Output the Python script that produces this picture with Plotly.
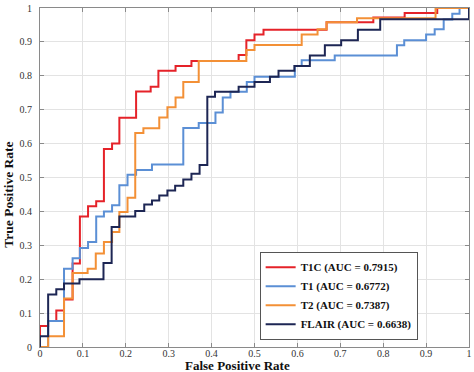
import plotly.graph_objects as go

# ---- data ----
series_names = ["T1C", "T1", "T2", "FLAIR"]
auc_values = [0.7915, 0.6772, 0.7387, 0.6638]

fpr_t1c = [0, 0, 0.019, 0.038, 0.056, 0.076, 0.093, 0.112, 0.131, 0.149, 0.168, 0.185,
           0.224, 0.258, 0.276, 0.316, 0.353, 0.463, 0.481, 0.5, 0.521, 0.668, 0.777,
           0.85, 0.926, 1.0]
tpr_t1c = [0, 0.062, 0.077, 0.108, 0.14, 0.246, 0.385, 0.415, 0.43, 0.584, 0.6, 0.676,
           0.754, 0.768, 0.815, 0.829, 0.844, 0.861, 0.905, 0.922, 0.936, 0.958, 0.972,
           0.985, 1.0, 1.0]

fpr_t1 = [0, 0.019, 0.056, 0.076, 0.093, 0.112, 0.131, 0.149, 0.168, 0.185, 0.204, 0.224,
          0.261, 0.334, 0.37, 0.409, 0.426, 0.444, 0.482, 0.5, 0.594, 0.61, 0.687, 0.832,
          0.849, 0.9, 0.92, 0.941, 0.961, 0.978, 1.0]
tpr_t1 = [0, 0.077, 0.231, 0.262, 0.292, 0.31, 0.385, 0.4, 0.418, 0.477, 0.508, 0.522,
          0.538, 0.646, 0.661, 0.692, 0.736, 0.753, 0.782, 0.797, 0.829, 0.846, 0.86, 0.89,
          0.905, 0.922, 0.937, 0.966, 0.983, 1.0, 1.0]

fpr_t2 = [0, 0.019, 0.056, 0.076, 0.111, 0.13, 0.149, 0.168, 0.185, 0.204, 0.222, 0.241,
          0.278, 0.297, 0.316, 0.334, 0.37, 0.481, 0.5, 0.61, 0.647, 0.668, 0.739, 0.922, 1.0]
tpr_t2 = [0, 0.032, 0.143, 0.218, 0.231, 0.276, 0.31, 0.339, 0.398, 0.44, 0.631, 0.645,
          0.677, 0.707, 0.736, 0.782, 0.844, 0.876, 0.891, 0.922, 0.937, 0.958, 0.97, 1.0, 1.0]

fpr_flair = [0, 0, 0.019, 0.038, 0.056, 0.092, 0.148, 0.167, 0.185, 0.222, 0.243, 0.261,
             0.278, 0.297, 0.315, 0.334, 0.353, 0.372, 0.39, 0.408, 0.463, 0.5, 0.536,
             0.556, 0.593, 0.629, 0.664, 0.702, 0.741, 0.793, 1.0]
tpr_flair = [0, 0.032, 0.155, 0.17, 0.187, 0.2, 0.248, 0.354, 0.385, 0.401, 0.42, 0.432,
             0.447, 0.462, 0.476, 0.494, 0.511, 0.537, 0.738, 0.753, 0.768, 0.782, 0.797,
             0.815, 0.829, 0.86, 0.89, 0.905, 0.936, 0.967, 1.0]

tick_vals = [0, 0.1, 0.2, 0.3, 0.4, 0.5, 0.6, 0.7, 0.8, 0.9, 1]
tick_text = ["0", "0.1", "0.2", "0.3", "0.4", "0.5", "0.6", "0.7", "0.8", "0.9", "1"]

colors = ["#e52229", "#5b8fd5", "#f39036", "#1d2654"]
curves = [(fpr_t1c, tpr_t1c), (fpr_t1, tpr_t1), (fpr_t2, tpr_t2), (fpr_flair, tpr_flair)]

serif = "Liberation Serif, Times New Roman, serif"

fig = go.Figure()
for name, auc, (fx, ty), col in zip(series_names, auc_values, curves, colors):
    fig.add_trace(go.Scatter(
        x=fx, y=ty, mode="lines", line=dict(color=col, width=2, shape="hv"),
        name=f"{name} (AUC = {auc:.4f})",
    ))

axis_common = dict(
    range=[0, 1], tickvals=tick_vals, ticktext=tick_text,
    showgrid=True, gridcolor="#e3e3e3", gridwidth=1,
    showline=True, linecolor="#8a8a8a", linewidth=1, mirror="ticks",
    ticks="inside", ticklen=4, tickcolor="#8a8a8a",
    tickfont=dict(family=serif, size=10, color="#333333"),
    zeroline=False, fixedrange=True, ticklabeloverflow="allow",
)

fig.update_layout(
    width=474, height=372,
    margin=dict(l=40, r=2, t=8, b=25),
    paper_bgcolor="white", plot_bgcolor="white",
    xaxis=dict(**axis_common, ticklabelstandoff=-3),
    yaxis=dict(**axis_common, ticklabelstandoff=5),
    showlegend=True,
    legend=dict(
        x=0.512, y=0.1515, xanchor="left", yanchor="middle",
        bgcolor="white", bordercolor="#555555", borderwidth=1,
        font=dict(family=serif, size=11, color="#111111", weight="bold"),
        tracegroupgap=0, itemwidth=30,
    ),
    annotations=[
        dict(text="False Positive Rate", xref="paper", yref="paper", x=0.46, y=-0.0546,
             xanchor="center", yanchor="middle", showarrow=False,
             font=dict(family=serif, size=13, color="#111111", weight="bold")),
        dict(text="True Positive Rate", xref="paper", yref="paper", x=-0.074, y=0.45,
             xanchor="center", yanchor="middle", showarrow=False, textangle=-90,
             font=dict(family=serif, size=13.5, color="#111111", weight="bold")),
    ],
)

fig.write_html(
    "out.html",
    config={"displayModeBar": False},
    post_script="document.body.style.margin='0';document.body.style.overflow='hidden';",
)
